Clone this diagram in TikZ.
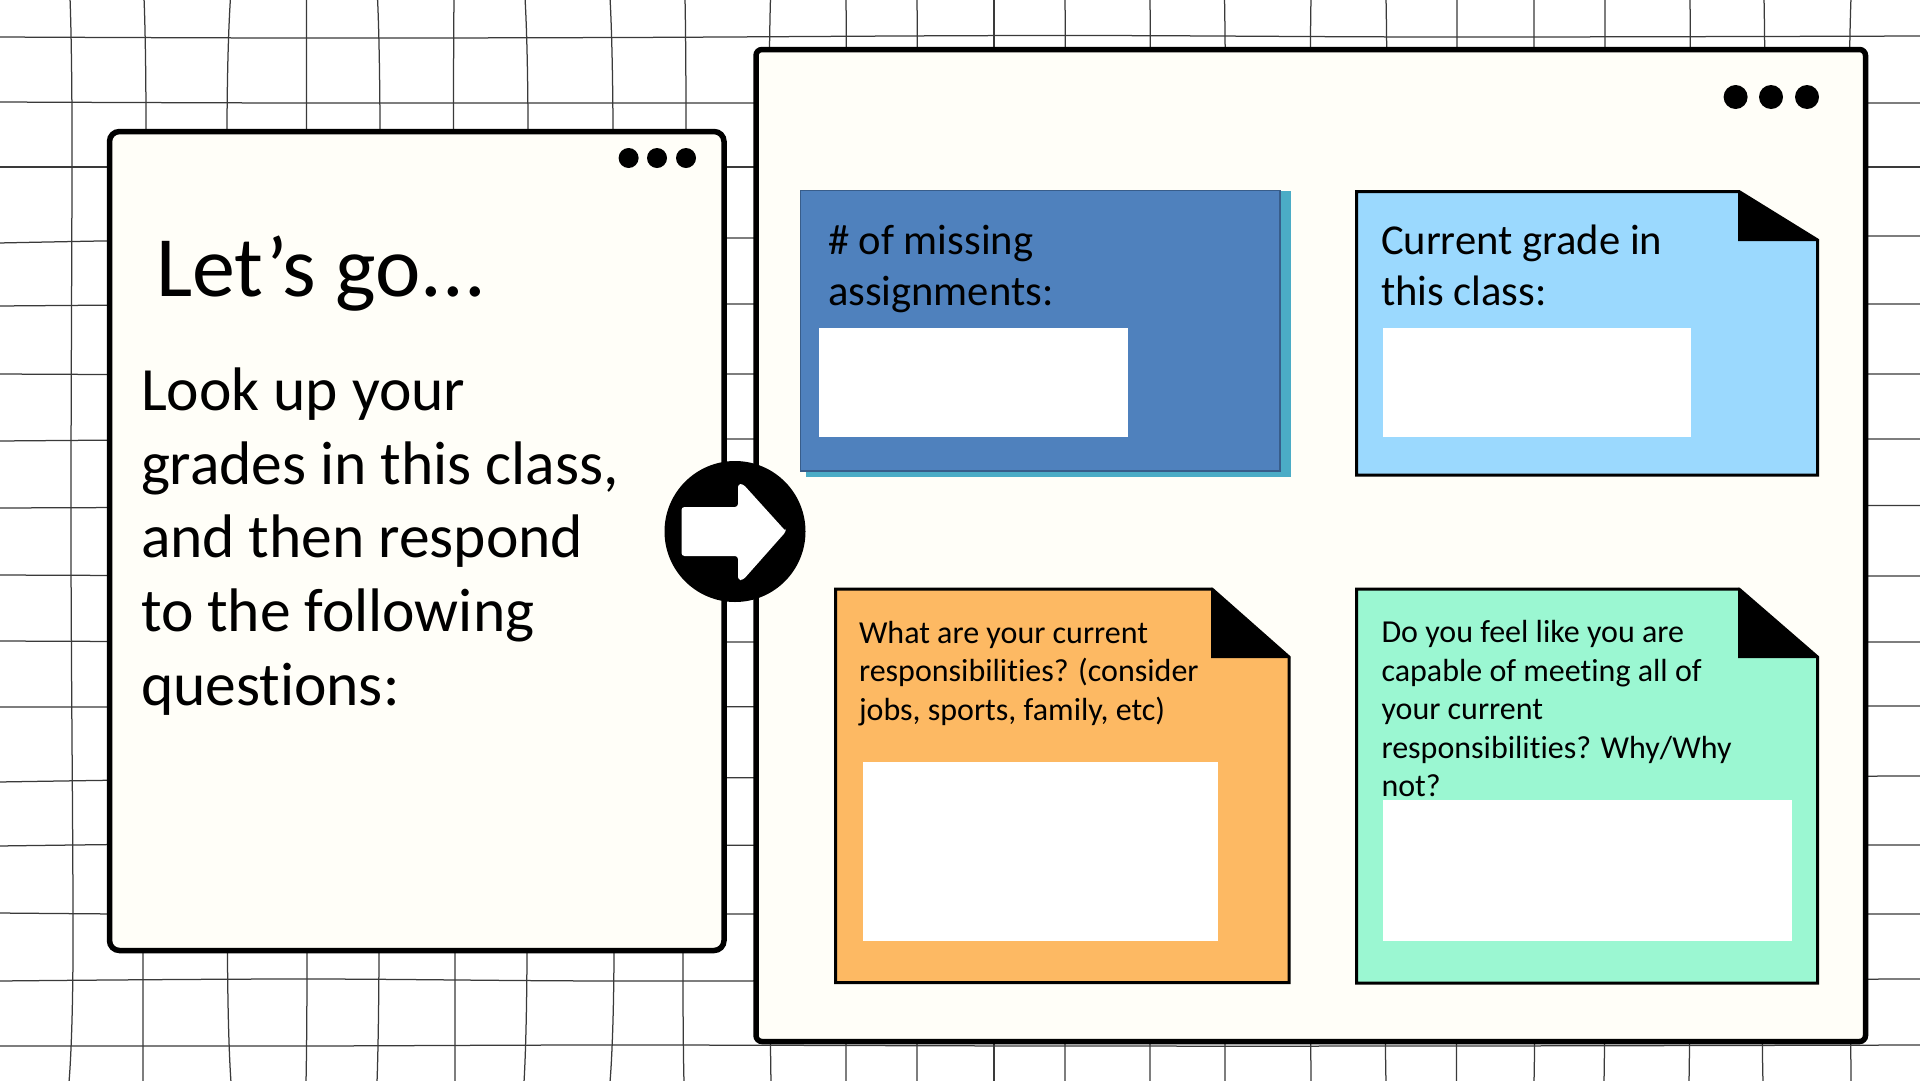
\documentclass[tikz,border=0pt]{standalone}
\usepackage{fontspec}
\setmainfont{Carlito}[Ligatures=NoCommon]
\definecolor{cream}{HTML}{FFFEF8}
\definecolor{boxblue}{HTML}{4F81BD}
\definecolor{boxblueedge}{HTML}{385D8A}
\definecolor{boxshadow}{HTML}{4BACC6}
\definecolor{noteblue}{HTML}{9BD9FE}
\definecolor{noteorange}{HTML}{FDB963}
\definecolor{notegreen}{HTML}{9BF7D2}
\definecolor{gridgrey}{HTML}{3A3A3A}
\tikzset{
  gridline/.style={draw=gridgrey,line width=1.25pt},
  card/.style={draw=black,fill=cream,line width=5.5pt},
  dotmark/.style={circle,fill=black,inner sep=0pt},
  notebody/.style={draw=black,line width=3pt,line join=miter},
  answer/.style={fill=white,draw=none},
  label/.style={anchor=base west,inner sep=0pt,outer sep=0pt,align=left,text=black},
  titletext/.style={label,font=\fontsize{86}{100}\selectfont},
  bodytext/.style={label,font=\fontsize{61.5}{73.6}\selectfont},
  bigtext/.style={label,font=\fontsize{42.6}{51}\selectfont},
  smalltext/.style={label,font=\fontsize{32}{38.5}\selectfont}
}
\newcommand{\vgrid}[5]{\draw[gridline] plot[smooth,tension=.6] coordinates {(#1,-2) (#2,130) (#3,540) (#4,953) (#5,1082)};}
\newcommand{\hgrid}[6]{\draw[gridline] plot[smooth,tension=.6] coordinates {(-2,#1) (300,#2) (620,#3) (1050,#4) (1450,#5) (1922,#6)};}
\begin{document}
\begin{tikzpicture}[x=1pt,y=-1pt]
\useasboundingbox (0,0) rectangle (1920,1080);
\fill[white] (0,0) rectangle (1920,1080);
% hand-drawn grid
\hgrid{37}{38}{37.5}{35.5}{37}{36}
\hgrid{102}{103}{103}{103}{103}{103}
\hgrid{167}{167}{167}{167}{167}{167}
\hgrid{243}{238}{238}{238}{237}{236}
\hgrid{306}{304}{304}{304}{304}{304}
\hgrid{374}{375}{374}{374}{374}{374}
\hgrid{441}{439}{439}{439}{439}{439}
\hgrid{508}{507}{507}{506}{506}{505.5}
\hgrid{575}{576}{576}{576}{576}{576}
\hgrid{641}{642}{642}{642}{642}{642}
\hgrid{707}{707}{707}{706}{706}{706}
\hgrid{782}{778}{778}{777}{777}{776}
\hgrid{846}{843}{845}{845}{845}{845}
\hgrid{913}{915}{914}{914}{914}{914}
\hgrid{981}{979}{981}{980}{980}{979}
\hgrid{1046}{1046}{1045}{1046}{1046}{1045}
\vgrid{70}{72}{71}{73}{69}
\vgrid{144}{146}{144}{143}{143}
\vgrid{230.5}{227}{229}{227.5}{231}
\vgrid{306.5}{306.5}{306}{307}{306}
\vgrid{377.5}{380}{379}{379}{377}
\vgrid{454}{453.5}{454}{455}{455}
\vgrid{525}{528}{526}{527}{524}
\vgrid{610}{613}{612}{614}{610}
\vgrid{685}{686}{685}{683}{684}
\vgrid{770.5}{769}{770}{770}{771}
\vgrid{846}{846.5}{846}{846}{846}
\vgrid{917}{917.5}{917}{917}{917}
\vgrid{994}{994}{994}{994}{994}
\vgrid{1065}{1065.5}{1065}{1065}{1065}
\vgrid{1150}{1150.5}{1150}{1150}{1150}
\vgrid{1224.5}{1225.5}{1225}{1225}{1225}
\vgrid{1311}{1310}{1310}{1310.5}{1311}
\vgrid{1386}{1387}{1386}{1385}{1386}
\vgrid{1457}{1457}{1457}{1456.5}{1456.5}
\vgrid{1534}{1534}{1534}{1535}{1534}
\vgrid{1605}{1605}{1605}{1605}{1604}
\vgrid{1690}{1690.5}{1690}{1690}{1689}
\vgrid{1764}{1765}{1764}{1762}{1763}
\vgrid{1851}{1849}{1850}{1850.5}{1851}
% cards
\draw[card,rounded corners=10pt] (109.5,131.5) rectangle (724,950.5);
\draw[card,rounded corners=6pt] (756,49.5) rectangle (1865.5,1041.5);
% window dots
\foreach \n/\x in {a/628.6,b/657,c/686}
  \node[dotmark,minimum size=20pt] (left\n) at (\x,158) {};
\foreach \n/\x in {a/1735.6,b/1771,c/1807}
  \node[dotmark,minimum size=24pt] (right\n) at (\x,97) {};
% arrow badge
\fill[black] (735,531.5) circle (70.5);
\fill[white,rounded corners=3pt] (681.5,507) -- (738,507) -- (738,484) -- (743,484) -- (786,531.5) -- (786,531.5) -- (743,580) -- (738,580) -- (738,556) -- (681.5,556) -- cycle;
% blue box
\fill[boxshadow] (806,191) rectangle (1291,477);
\draw[fill=boxblue,draw=boxblueedge,line width=1.5pt] (800.5,190.5) rectangle (1280,471);
\fill[answer] (819,328) rectangle (1128,437);
% light-blue note
\draw[notebody,fill=noteblue] (1356.5,191.5) -- (1739,191.5) -- (1817.5,240) -- (1817.5,475) -- (1356.5,475) -- cycle;
\fill[black] (1738,190) -- (1738,241) -- (1819,241) -- cycle;
\fill[answer] (1382.5,328) rectangle (1691,437);
% orange note
\draw[notebody,fill=noteorange] (835.5,589) -- (1212,589) -- (1289,657) -- (1289,982.5) -- (835.5,982.5) -- cycle;
\fill[black] (1211,587.5) -- (1211,658) -- (1290.5,658) -- cycle;
\fill[answer] (863,762) rectangle (1218,941);
% green note
\draw[notebody,fill=notegreen] (1356.5,589) -- (1739,589) -- (1817.5,657) -- (1817.5,983) -- (1356.5,983) -- cycle;
\fill[black] (1738,587.5) -- (1738,658) -- (1819,658) -- cycle;
\fill[answer] (1382.5,800) rectangle (1792,941);
% text
\node[titletext] (title) at (156,296) {Let’s go...};
\node[bodytext] (intro) at (141,705) {Look up your\\grades in this class,\\and then respond\\to the following\\questions:};
\node[bigtext] (missing) at (828,305) {\# of missing\\assignments:};
\node[bigtext] (grade) at (1381,305) {Current grade in\\this class:};
\node[smalltext] (resp) at (859,720) {What are your current\\responsibilities? (consider\\jobs, sports, family, etc)};
\node[smalltext] (capable) at (1381.5,796.5) {Do you feel like you are\\capable of meeting all of\\your current\\responsibilities? Why/Why\\not?};
\end{tikzpicture}
\end{document}
